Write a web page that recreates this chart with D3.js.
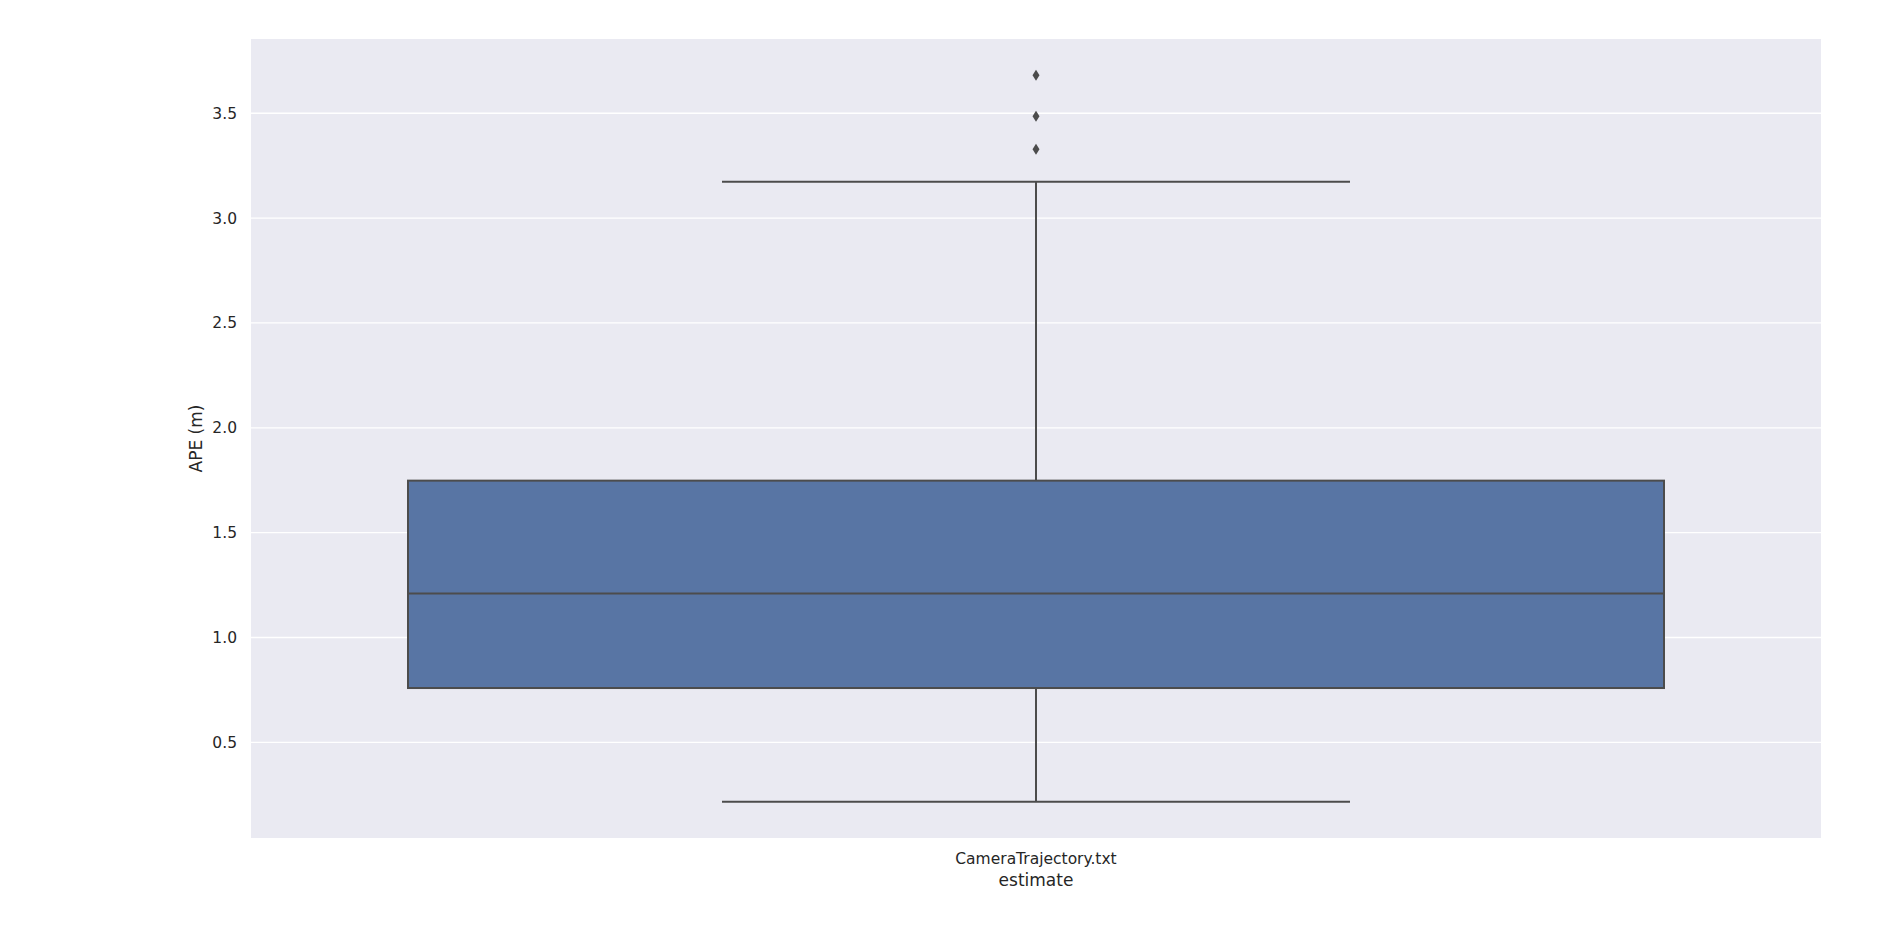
<!DOCTYPE html>
<html>
<head>
<meta charset="utf-8">
<script src="https://cdn.jsdelivr.net/npm/d3@7"></script>
<style>
  body { margin: 0; background: #fff; }
  svg { display: block; font-family: "DejaVu Sans", sans-serif; }
</style>
</head>
<body>
<svg width="1898" height="949"></svg>
<script>
// box statistics
var categories = ["CameraTrajectory.txt"],
	q1Values = [0.759],
	medianValues = [1.21],
	q3Values = [1.748],
	whiskerLow = [0.217],
	whiskerHigh = [3.174],
	outliers = [[3.681, 3.486, 3.328]],
	yTicks = [0.5, 1.0, 1.5, 2.0, 2.5, 3.0, 3.5];

var svg = d3.select("svg"),
	margin = {top: 39, right: 77, bottom: 111, left: 251},
	width = +svg.attr("width") - margin.left - margin.right,
	height = +svg.attr("height") - margin.top - margin.bottom;

var boxes = categories.map(function(c, i) {
	return {cat: c, q1: q1Values[i], med: medianValues[i], q3: q3Values[i],
		lo: whiskerLow[i], hi: whiskerHigh[i], out: outliers[i]};
});

// matplotlib style 5% margin around data
var lo = d3.min(boxes, function(d) { return d3.min([d.lo].concat(d.out)); }),
	hi = d3.max(boxes, function(d) { return d3.max([d.hi].concat(d.out)); }),
	pad = (hi - lo) * 0.05;

var x = d3.scaleBand().domain(categories).range([0, width]).padding(0),
	y = d3.scaleLinear().domain([lo - pad, hi + pad]).range([height, 0]);

var g = svg.append("g")
	.attr("transform", "translate(" + margin.left + "," + margin.top + ")");

g.append("rect")
	.attr("width", width)
	.attr("height", height)
	.attr("fill", "#eaeaf2");

// grid
g.selectAll(".grid")
	.data(yTicks)
	.enter().append("line")
	.attr("x1", 0).attr("x2", width)
	.attr("y1", function(d) { return y(d); })
	.attr("y2", function(d) { return y(d); })
	.attr("stroke", "#fff")
	.attr("stroke-width", 1.3);

// y axis
var yAxis = g.append("g")
	.call(d3.axisLeft(y).tickValues(yTicks).tickFormat(d3.format(".1f")).tickSize(0).tickPadding(14));
yAxis.select(".domain").remove();
yAxis.selectAll("text").attr("fill", "#262626").style("font-size", "15.5px").style("font-family", "DejaVu Sans");

// x axis
var xAxis = g.append("g")
	.attr("transform", "translate(0," + height + ")")
	.call(d3.axisBottom(x).tickSize(0).tickPadding(15));
xAxis.select(".domain").remove();
xAxis.selectAll("text").attr("fill", "#262626").style("font-size", "15.5px").style("font-family", "DejaVu Sans");

svg.append("text")
	.attr("x", margin.left + width / 2)
	.attr("y", 886)
	.attr("text-anchor", "middle")
	.attr("fill", "#262626")
	.style("font-size", "17px")
	.text("estimate");

svg.append("text")
	.attr("transform", "translate(202," + (margin.top + height / 2) + ") rotate(-90)")
	.attr("text-anchor", "middle")
	.attr("fill", "#262626")
	.style("font-size", "17px")
	.text("APE (m)");

var lineCol = "#4c4c4c";

var b = g.selectAll(".box")
	.data(boxes)
	.enter().append("g")
	.attr("class", "box");

var cx = function(d) { return x(d.cat) + x.bandwidth() / 2; },
	bw = x.bandwidth() * 0.8,
	cw = bw / 2;

// whiskers
b.append("line")
	.attr("x1", cx).attr("x2", cx)
	.attr("y1", function(d) { return y(d.q3); })
	.attr("y2", function(d) { return y(d.hi); })
	.attr("stroke", lineCol).attr("stroke-width", 2);
b.append("line")
	.attr("x1", cx).attr("x2", cx)
	.attr("y1", function(d) { return y(d.q1); })
	.attr("y2", function(d) { return y(d.lo); })
	.attr("stroke", lineCol).attr("stroke-width", 2);

// caps
[["hi"], ["lo"]].forEach(function(k) {
	b.append("line")
		.attr("x1", function(d) { return cx(d) - cw / 2; })
		.attr("x2", function(d) { return cx(d) + cw / 2; })
		.attr("y1", function(d) { return y(d[k[0]]); })
		.attr("y2", function(d) { return y(d[k[0]]); })
		.attr("stroke", lineCol).attr("stroke-width", 2);
});

// box
b.append("rect")
	.attr("x", function(d) { return cx(d) - bw / 2; })
	.attr("y", function(d) { return y(d.q3); })
	.attr("width", bw)
	.attr("height", function(d) { return y(d.q1) - y(d.q3); })
	.attr("fill", "#5875a4")
	.attr("stroke", lineCol)
	.attr("stroke-width", 2);

// median
b.append("line")
	.attr("x1", function(d) { return cx(d) - bw / 2; })
	.attr("x2", function(d) { return cx(d) + bw / 2; })
	.attr("y1", function(d) { return y(d.med); })
	.attr("y2", function(d) { return y(d.med); })
	.attr("stroke", lineCol).attr("stroke-width", 2);

// outliers, thin diamonds
b.selectAll(".out")
	.data(function(d) { return d.out.map(function(v) { return {cat: d.cat, v: v}; }); })
	.enter().append("path")
	.attr("transform", function(d) { return "translate(" + cx(d) + "," + y(d.v) + ")"; })
	.attr("d", "M0,-5.5L3.5,0L0,5.5L-3.5,0Z")
	.attr("fill", lineCol);
</script>
</body>
</html>
